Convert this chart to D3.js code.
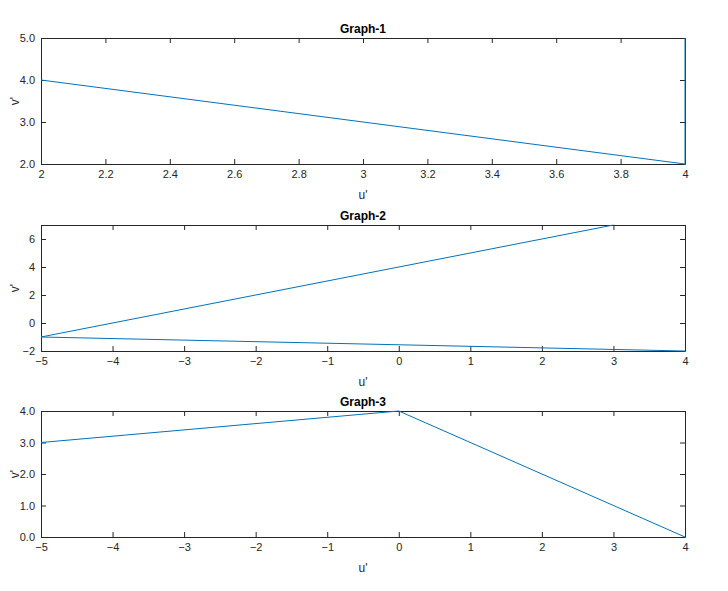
<!DOCTYPE html>
<html><head><meta charset="utf-8">
<script src="https://cdn.jsdelivr.net/npm/d3@7"></script>
<style>body{margin:0;background:#fff}text{font-family:Arial,"Liberation Sans",sans-serif}</style>
</head><body>
<script>
var titles = ["Graph-1", "Graph-2", "Graph-3"];
var xDomains = [[2, 4], [-5, 4], [-5, 4]];
var yDomains = [[2, 5], [-2, 7], [0, 4]];
var xTicks = [[2, 2.2, 2.4, 2.6, 2.8, 3, 3.2, 3.4, 3.6, 3.8, 4], [-5, -4, -3, -2, -1, 0, 1, 2, 3, 4], [-5, -4, -3, -2, -1, 0, 1, 2, 3, 4]];
var yTicks = [[2, 3, 4, 5], [-2, 0, 2, 4, 6], [0, 1, 2, 3, 4]];
var u1 = [2, 4, 4], v1 = [4, 2, 5];
var u2 = [3, -5, 4], v2 = [7, -1, -2];
var u3 = [-5, 0, 4], v3 = [3, 4, 0];
var us = [u1, u2, u3], vs = [v1, v2, v3];

var svg = d3.select("body").append("svg").attr("width", 728).attr("height", 591);
svg.append("rect").attr("width", 728).attr("height", 591).attr("fill", "#fff");

var left = 41, right = 685, h = 126;
var panelTops = [38, 225, 411];

panelTops.forEach(function(pt, k) {
  var x = d3.scaleLinear().domain(xDomains[k]).range([left, right]);
  var y = d3.scaleLinear().domain(yDomains[k]).range([pt + h, pt]);
  var g = svg.append("g");

  g.append("g").attr("transform", "translate(0," + (pt + h) + ")")
    .call(d3.axisBottom(x).tickValues(xTicks[k]).tickSizeInner(-5).tickSizeOuter(0).tickPadding(6).tickFormat(d3.format("~g")));
  g.append("g").attr("transform", "translate(0," + pt + ")")
    .call(d3.axisTop(x).tickValues(xTicks[k]).tickSizeInner(-5).tickSizeOuter(0).tickFormat(""));
  g.append("g").attr("transform", "translate(" + left + ",0)")
    .call(d3.axisLeft(y).tickValues(yTicks[k]).tickSizeInner(-5).tickSizeOuter(0).tickPadding(6));
  g.append("g").attr("transform", "translate(" + right + ",0)")
    .call(d3.axisRight(y).tickValues(yTicks[k]).tickSizeInner(-5).tickSizeOuter(0).tickFormat(""));
  g.selectAll(".domain").attr("stroke", "#262626");
  g.selectAll(".tick line").attr("stroke", "#262626");
  g.selectAll(".tick text").attr("fill", "#262626").style("font-size", "11px");

  var line = d3.line().x(function(d) { return x(d[0]); }).y(function(d) { return y(d[1]); });
  var pts = us[k].map(function(u, i) { return [u, vs[k][i]]; });
  g.append("path").attr("d", line(pts)).attr("fill", "none").attr("stroke", "#0072BD").attr("stroke-width", 1);

  g.append("text").attr("x", (left + right) / 2).attr("y", pt - 5).attr("text-anchor", "middle")
    .style("font-size", "12px").style("font-weight", "bold").attr("fill", "#000").text(titles[k]);
  g.append("text").attr("x", (left + right) / 2).attr("y", pt + h + 35).attr("text-anchor", "middle")
    .style("font-size", "12px").attr("fill", "#262626").text("u'");
  g.append("text").attr("transform", "translate(" + (left - 22) + "," + (pt + h / 2) + ") rotate(-90)")
    .attr("text-anchor", "middle").style("font-size", "12px").attr("fill", "#262626").text("v'");
});
</script>
</body></html>
